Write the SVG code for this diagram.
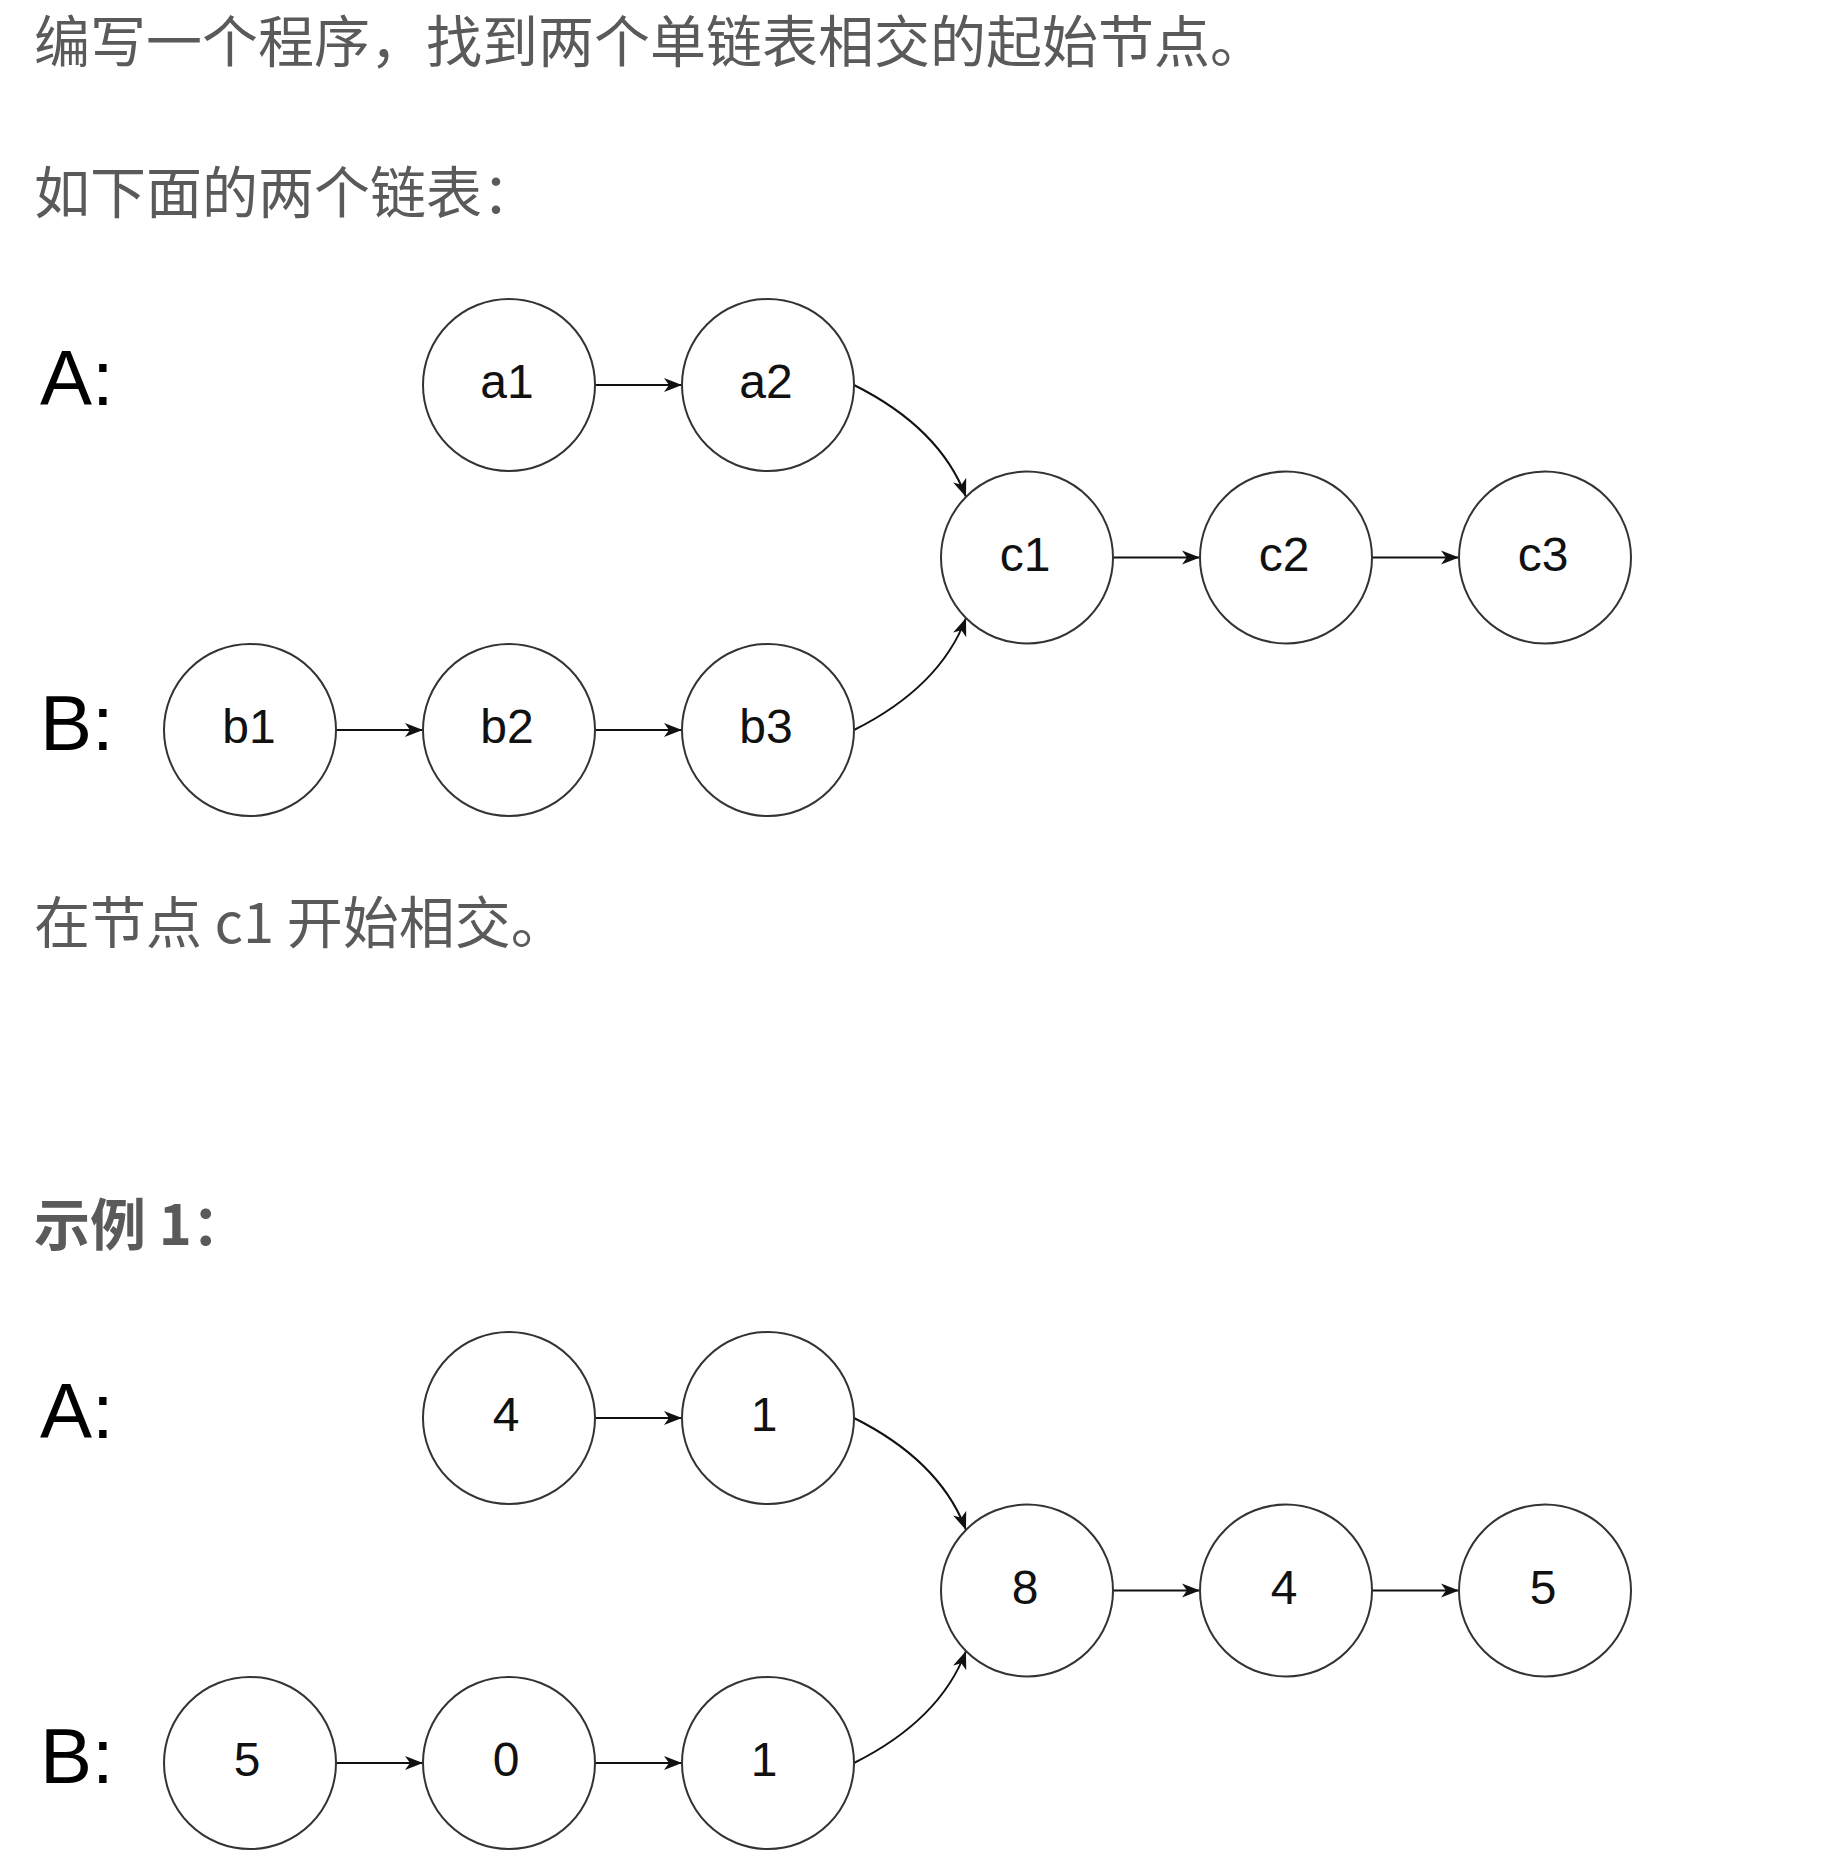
<svg xmlns="http://www.w3.org/2000/svg" width="1836" height="1868" viewBox="0 0 1836 1868">
<defs>
<style>
.txt{font-family:"Noto Sans CJK SC","Liberation Sans",sans-serif;font-size:56px;fill:#5a5a5a}
.bold{font-weight:bold}
.lab{font-family:"Liberation Sans",Arial,sans-serif;font-size:78px;fill:#000}
.node circle{fill:#fff;stroke:#333;stroke-width:2}
.node text{font-family:"Liberation Sans",Arial,sans-serif;font-size:48px;fill:#111;text-anchor:middle}
.edge{fill:none;stroke:#111;stroke-width:2;marker-end:url(#arr)}
</style>
<marker id="arr" markerUnits="userSpaceOnUse" markerWidth="20" markerHeight="18" viewBox="0 0 20 18" refX="18" refY="9" orient="auto">
<path d="M0,2 L18,9 L0,16 L5,9 Z" fill="#111"/>
</marker>
</defs>
<rect width="1836" height="1868" fill="#fff"/>

<g id="texts">
<text class="txt" x="34" y="62">编写一个程序，找到两个单链表相交的起始节点。</text>
<text class="txt" x="34" y="213">如下面的两个链表：</text>
<text class="txt" x="34" y="943">在节点 c1 开始相交。</text>
<text class="txt bold" x="34" y="1245">示例 1：</text>
<text class="lab" x="40" y="405">A:</text>
<text class="lab" x="40" y="750">B:</text>
<text class="lab" x="40" y="1438">A:</text>
<text class="lab" x="40" y="1783">B:</text>
</g>

<g id="connectors">
<path class="edge" d="M595,385 H682"/>
<path class="edge" d="M854,385 Q940,428 966,497"/>
<path class="edge" d="M336,730 H423"/>
<path class="edge" d="M595,730 H682"/>
<path class="edge" d="M854,730 Q940,687 966,618"/>
<path class="edge" d="M1113,557.5 H1200"/>
<path class="edge" d="M1372,557.5 H1459"/>

<path class="edge" d="M595,1418 H682"/>
<path class="edge" d="M854,1418 Q940,1461 966,1530"/>
<path class="edge" d="M336,1763 H423"/>
<path class="edge" d="M595,1763 H682"/>
<path class="edge" d="M854,1763 Q940,1720 966,1651"/>
<path class="edge" d="M1113,1590.5 H1200"/>
<path class="edge" d="M1372,1590.5 H1459"/>
</g>

<g id="node-a1" class="node"><circle cx="509" cy="385" r="86"/><text x="507" y="398">a1</text></g>
<g id="node-a2" class="node"><circle cx="768" cy="385" r="86"/><text x="766" y="398">a2</text></g>
<g id="node-c1" class="node"><circle cx="1027" cy="557.5" r="86"/><text x="1025" y="570.5">c1</text></g>
<g id="node-c2" class="node"><circle cx="1286" cy="557.5" r="86"/><text x="1284" y="570.5">c2</text></g>
<g id="node-c3" class="node"><circle cx="1545" cy="557.5" r="86"/><text x="1543" y="570.5">c3</text></g>
<g id="node-b1" class="node"><circle cx="250" cy="730" r="86"/><text x="249" y="743">b1</text></g>
<g id="node-b2" class="node"><circle cx="509" cy="730" r="86"/><text x="507" y="743">b2</text></g>
<g id="node-b3" class="node"><circle cx="768" cy="730" r="86"/><text x="766" y="743">b3</text></g>

<g id="ex-node-a1" class="node"><circle cx="509" cy="1418" r="86"/><text x="506" y="1431">4</text></g>
<g id="ex-node-a2" class="node"><circle cx="768" cy="1418" r="86"/><text x="764" y="1431">1</text></g>
<g id="ex-node-c1" class="node"><circle cx="1027" cy="1590.5" r="86"/><text x="1025" y="1603.5">8</text></g>
<g id="ex-node-c2" class="node"><circle cx="1286" cy="1590.5" r="86"/><text x="1284" y="1603.5">4</text></g>
<g id="ex-node-c3" class="node"><circle cx="1545" cy="1590.5" r="86"/><text x="1543" y="1603.5">5</text></g>
<g id="ex-node-b1" class="node"><circle cx="250" cy="1763" r="86"/><text x="247" y="1776">5</text></g>
<g id="ex-node-b2" class="node"><circle cx="509" cy="1763" r="86"/><text x="506" y="1776">0</text></g>
<g id="ex-node-b3" class="node"><circle cx="768" cy="1763" r="86"/><text x="764" y="1776">1</text></g>
</svg>
